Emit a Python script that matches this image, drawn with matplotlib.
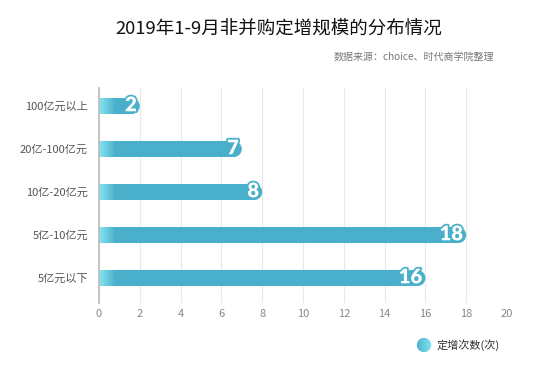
import numpy as np
import matplotlib.pyplot as plt
import matplotlib.patheffects as pe
from matplotlib.colors import LinearSegmentedColormap
from matplotlib.patches import Rectangle, Ellipse, Circle

plt.rcParams['font.family'] = ['Noto Sans CJK SC', 'DejaVu Sans']

# ── Data ──────────────────────────────────────────────────────────────────────
categories = ["5亿元以下", "5亿-10亿元", "10亿-20亿元", "20亿-100亿元", "100亿元以上"]
counts = [16, 18, 8, 7, 2]
xticks = list(range(0, 21, 2))

TITLE = "2019年1-9月非并购定增规模的分布情况"
SOURCE = "数据来源：choice、时代商学院整理"
LEGEND = "定增次数(次)"

BAR = "#4aafca"
LIGHT = "#86e6f0"
grad = LinearSegmentedColormap.from_list("g", [LIGHT, BAR])

W, H = 554, 382
fig = plt.figure(figsize=(W / 100, H / 100), dpi=100)
ax = fig.add_axes([99 / W, (H - 303) / H, 408 / W, 215 / H])

ax.set_xlim(0, 20)
ax.set_ylim(-0.58, 4.42)

h = 0.37
rx = 8 / 20.4          # half-height of bar in x units (px -> data)
gw = 0.8               # width of the light gradient at the bar start
for i, v in enumerate(counts):
    # gradient start underneath, solid bar overlapping its right edge
    g = np.linspace(0, 1, 64).reshape(1, -1)
    ax.imshow(g, cmap=grad, extent=[0, gw, i - h / 2, i + h / 2],
              aspect="auto", zorder=2, interpolation="bilinear")
    ax.add_patch(Rectangle((gw - 0.05, i - h / 2), v - rx - gw + 0.05, h,
                           color=BAR, lw=0, zorder=3))
    ax.add_patch(Ellipse((v - rx, i), 2 * rx, h, color=BAR, lw=0, zorder=3))
    ax.text(v - 0.15, i + 0.03, str(v), ha="right", va="center",
            fontsize=14.5, fontweight="heavy", color="white", zorder=5,
            family="Lato",
            path_effects=[pe.withStroke(linewidth=2.5, foreground=BAR)])

ax.set_xticks(xticks)
ax.set_xticklabels([str(t) for t in xticks], fontsize=8, color="#888888")
ax.set_yticks(range(len(categories)))
ax.set_yticklabels(categories, fontsize=8, color="#555555")
ax.tick_params(axis="x", length=0, pad=4)
ax.tick_params(axis="y", length=0, pad=8)
ax.grid(axis="x", color="#e8e8e8", lw=0.8, zorder=0)
for s in ["top", "right", "bottom"]:
    ax.spines[s].set_visible(False)
ax.spines["left"].set_color("#bbbbbb")
ax.spines["left"].set_linewidth(1.2)
ax.spines["left"].set_zorder(4)

fig.text(279 / W, 1 - 30 / H, TITLE, ha="center", va="center",
         fontsize=13.3, fontweight="medium", color="#111111")
fig.text(494 / W, 1 - 57 / H, SOURCE, ha="right", va="center",
         fontsize=7.2, color="#777777")

# legend marker with gradient
lax = fig.add_axes([416 / W, 1 - 353 / H, 16 / W, 16 / H])
lax.set_xlim(0, 1)
lax.set_ylim(0, 1)
lax.axis("off")
im = lax.imshow(np.linspace(0, 1, 64).reshape(1, -1)[:, ::-1], cmap=grad,
                extent=[0, 1, 0, 1], aspect="auto")
im.set_clip_path(Circle((0.5, 0.5), 0.45, transform=lax.transData))
fig.text(437 / W, 1 - 345 / H, LEGEND, ha="left", va="center",
         fontsize=8, color="#333333")

fig.savefig("out.png", dpi=100)
